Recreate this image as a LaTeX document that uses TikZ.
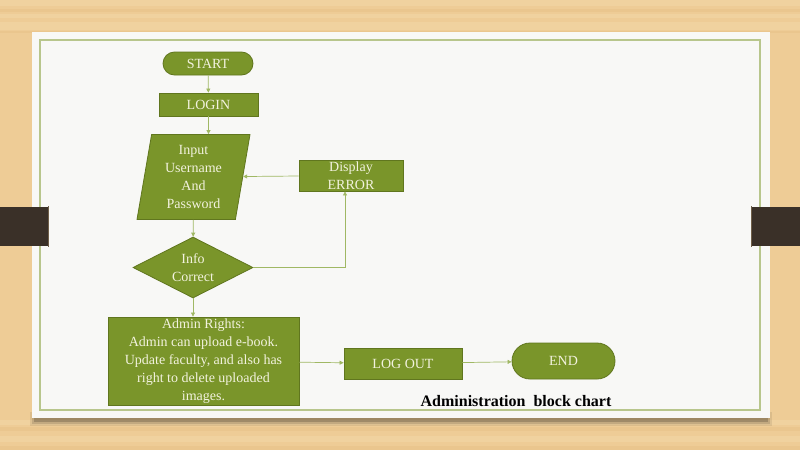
\documentclass[tikz,border=0pt]{standalone}
\usepackage{fontspec}
\setmainfont{Liberation Serif}
\usetikzlibrary{arrows.meta,shapes.geometric}
\definecolor{legno}{RGB}{238,204,150}
\definecolor{legnochiaro}{RGB}{246,222,178}
\definecolor{legnoscuro}{RGB}{226,186,126}
\definecolor{foglio}{RGB}{248,248,246}
\definecolor{cornice}{RGB}{184,198,140}
\definecolor{linguetta}{RGB}{58,48,40}
\definecolor{oliva}{RGB}{122,149,42}
\definecolor{bordo}{RGB}{96,118,30}
\definecolor{crema}{RGB}{242,242,222}
\definecolor{linea}{RGB}{160,184,100}

\begin{document}
\begin{tikzpicture}[x=1pt, y=-1pt, >={Triangle[length=4pt,width=4pt]},
  blocco/.style={draw=bordo, fill=oliva, text=crema, line width=0.8pt, inner sep=0pt,
    align=center, font=\fontsize{14}{18}\selectfont},
  freccia/.style={->, draw=linea, line width=0.7pt}]
  \useasboundingbox (0,0) rectangle (800,450);

  % Sfondo
  \fill[legno] (0,0) rectangle (800,450);
  \foreach \y/\h in {0/6, 14/4, 22/8, 420/5, 436/6}
    \fill[legnochiaro, opacity=0.35] (0,\y) rectangle (800,\y+\h);
  \foreach \y/\h in {9/3, 31/2, 427/4, 446/4}
    \fill[legnoscuro, opacity=0.3] (0,\y) rectangle (800,\y+\h);

  % Foglio
  \foreach \d/\o in {6/0.08, 4/0.12, 2/0.18}
    \fill[black, opacity=\o] (36-\d,412) rectangle (766+\d,420+\d);
  \fill[foglio] (32,32) rectangle (770,418);
  \draw[cornice, line width=1.6pt] (40,40) rectangle (760,410);

  % Linguette
  \fill[linguetta] (0,207) rectangle (48,246);
  \fill[linguetta] (751,207) rectangle (800,246);
  \draw[linguetta!70!legno, line width=1pt] (48,206) -- (48,247);
  \draw[linguetta!70!legno, line width=1pt] (751,206) -- (751,247);

  % Blocchi
  \node[blocco, rounded corners=11.5pt, minimum width=90pt, minimum height=23pt]
    (start) at (208,63.5) {START};
  \node[blocco, minimum width=99pt, minimum height=23pt]
    (login) at (208.5,104.5) {LOGIN};
  \node[blocco, trapezium, trapezium left angle=77, trapezium right angle=103,
    trapezium stretches body, minimum width=113pt, minimum height=85pt]
    (input) at (193.5,177) {Input\\Username\\And\\Password};
  \node[blocco, minimum width=104pt, minimum height=31pt]
    (errore) at (351,175.5) {Display\\ERROR};
  \node[blocco, diamond, aspect=2, minimum width=120pt, minimum height=61pt]
    (info) at (193,267.5) {Info\\Correct};
  \node[blocco, minimum width=191pt, minimum height=88pt]
    (admin) at (203.5,361) {Admin Rights:\\Admin can upload e-book.\\Update faculty, and also has\\right to delete uploaded\\images.};
  \node[blocco, minimum width=118pt, minimum height=31pt]
    (logout) at (403,363.5) {LOG OUT};
  \node[blocco, rounded corners=18pt, minimum width=103pt, minimum height=36pt]
    (fine) at (563.5,361) {END};

  % Titolo
  \node[font=\bfseries\fontsize{16}{18}\selectfont] (titolo) at (516,401)
    {Administration\ \ block chart};

  % Frecce
  \draw[freccia] (start) -- (login);
  \draw[freccia] (login) -- (login |- input.north);
  \draw[freccia] (input) -- (info);
  \draw[freccia] (info.south) -- (info.south |- admin.north);
  \draw[freccia] (info.east) -| ([xshift=-6pt]errore.south);
  \draw[freccia] (errore) -- (input);
  \draw[freccia] (admin) -- (logout);
  \draw[freccia] (logout) -- (fine);
\end{tikzpicture}
\end{document}
